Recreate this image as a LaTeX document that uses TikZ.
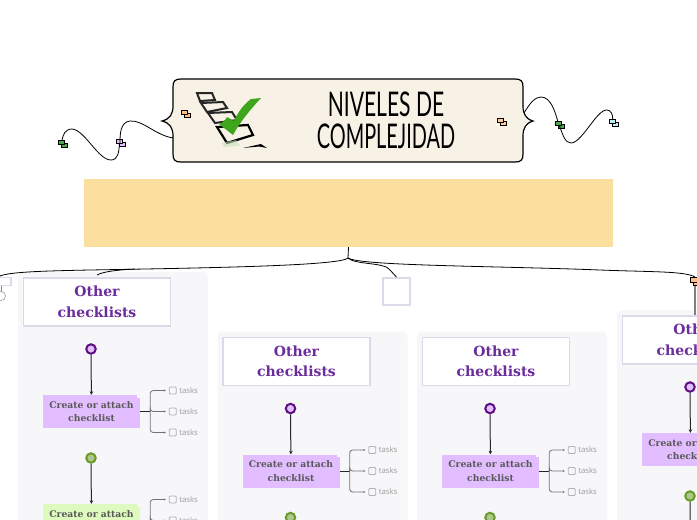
\documentclass[tikz,border=0pt]{standalone}
\usepackage{fontspec}
\usepackage{tikz}
\usetikzlibrary{positioning, arrows.meta, calc}
\newfontfamily\slabfont{DejaVu Serif}
\newfontfamily\handfont{Lato}
\newfontfamily\taskfont{Open Sans}
\definecolor{panelcol}{HTML}{F7F7FA}
\definecolor{framecol}{HTML}{DADAE8}
\definecolor{titlecol}{HTML}{6A2C9B}
\definecolor{purplecol}{HTML}{E2BDFF}
\definecolor{purpledark}{HTML}{5E0F82}
\definecolor{greencol}{HTML}{DFFABE}
\definecolor{greendark}{HTML}{6B9A2C}
\definecolor{creamcol}{HTML}{F8F2E6}
\definecolor{bandcol}{HTML}{FBDF9E}
\definecolor{checkcol}{HTML}{3FA51C}
\tikzset{
    framebox/.style={draw=framecol, line width=1.8pt, fill=white, minimum width=147pt, minimum height=48pt, align=center, inner sep=0pt, font=\slabfont\bfseries\fontsize{14}{20.5}\selectfont, text=titlecol},
    dotnode/.style={circle, draw=#1, line width=2pt, minimum size=9.5pt, inner sep=0pt},
    itembox/.style={fill=#1, minimum width=97pt, minimum height=33pt, align=center, inner sep=0pt, font=\slabfont\bfseries\fontsize{9.2}{13.5}\selectfont, text=black!65},
    flowline/.style={draw=black!85, line width=1pt, -{Stealth[length=3.5pt, width=3.5pt]}},
    taskline/.style={draw=black!55, line width=0.8pt, rounded corners=3pt, -{Stealth[length=2pt, width=2pt]}},
    taskbox/.style={draw=black!30, line width=0.8pt, rounded corners=1pt, minimum size=7pt, inner sep=0pt},
    tasktext/.style={font=\taskfont\fontsize{7.8}{9}\selectfont, text=black!40, inner sep=0pt},
    topicline/.style={draw=black, line width=0.8pt},
    tagback/.style={draw=black, line width=0.6pt, fill=#1, minimum width=6.5pt, minimum height=4.5pt, inner sep=0pt},
}
% little double tag
\newcommand{\tagicon}[4]{
    \node (#1b) [tagback=#4] at (#2+1.5,#3+1.5) {};
    \node (#1) [tagback=#4] at (#2-1.5,#3-1.5) {};
}
% three tasks to the right of an item
\newcommand{\taskfan}[2]{
    \draw [draw=black!85, line width=1pt] (#1.east) -- ++(10,0) coordinate (#1fork);
    \foreach \rowname/\rowshift in {a/-21, b/0, c/21} {
        \node (#1box\rowname) [taskbox, right=29pt of #1.east, yshift=-\rowshift pt, xshift=3.5pt, anchor=center] {};
        \node (#1txt\rowname) [tasktext, right=2.5pt of #1box\rowname] {tasks};
        \draw [taskline] (#1fork) -- ($(#1fork)+(0,\rowshift)$) -- ($(#1box\rowname.west)+(-3,0)$);
    }
}
% one column of the map
\newcommand{\checkcol}[3]{
    \begin{scope}[shift={(#2,#3)}]
        \fill [panelcol, rounded corners=6pt] (18,272) rectangle (208,560);
        \node (#1title) [framebox] at (97,302) {Other\\checklists};
        \node (#1dota) [dotnode=purpledark, fill=purplecol] at (91,349) {};
        \node (#1itema) [itembox=purplecol] at (91.5,411.5) {Create or attach\\checklist};
        \fill [panelcol] (#1itema.north east) rectangle +(-3,3);
        \draw [flowline] (#1dota) -- (#1itema);
        \taskfan{#1itema}{}
        \node (#1dotb) [dotnode=greendark, fill=greendark!55] at (91,458) {};
        \node (#1itemb) [itembox=greencol] at (91.5,520.5) {Create or attach\\checklist};
        \fill [panelcol] (#1itemb.north east) rectangle +(-3,3);
        \draw [flowline] (#1dotb) -- (#1itemb);
        \taskfan{#1itemb}{}
    \end{scope}
}

\begin{document}
\begin{tikzpicture}[x=1pt, y=-1pt]
    \useasboundingbox (0,0) rectangle (697,520);
    \clip (0,0) rectangle (697,520);
    \fill [white] (0,0) rectangle (697,520);
    % Columns
    \checkcol{one}{0}{0}
    \checkcol{two}{199.5}{59.5}
    \checkcol{three}{399}{59.5}
    \checkcol{four}{599}{38}
    % Central topic
    \draw [black, line width=1.2pt, fill=creamcol]
        (181,79) -- (515,79) .. controls (521,79) and (523,81) .. (523,87)
        -- (523,106) .. controls (523,114) and (526,119) .. (533,121)
        .. controls (526,123) and (523,128) .. (523,136)
        -- (523,154) .. controls (523,160) and (521,162) .. (515,162)
        -- (181,162) .. controls (175,162) and (173,160) .. (173,154)
        -- (173,136) .. controls (173,128) and (170,123) .. (162,121)
        .. controls (170,119) and (173,114) .. (173,106)
        -- (173,87) .. controls (173,81) and (175,79) .. (181,79) -- cycle;
    \node (centertext) [font=\handfont\fontsize{34}{32}\selectfont, align=center, inner sep=0pt] at (386,120) {\scalebox{0.62}[1]{NIVELES DE}\\\scalebox{0.585}[1]{COMPLEJIDAD}};
    % Checklist picture
    \draw [black!85, line width=2pt] (197,93) -- (212,93) -- (215,100) -- (200,101) -- cycle;
    \draw [black!85, line width=2pt] (201,103) -- (223,102) -- (227,108) -- (207,112) -- cycle;
    \draw [black!85, line width=2pt] (208,113) -- (232,112) -- (237,120) -- (215,123) -- cycle;
    \draw [black, line width=2.2pt] (217,127) -- (248,125) -- (253,135) -- (227,143) -- cycle;
    \fill [black] (243,148) -- (261,144) -- (267,148) -- (259,146.5) -- cycle;
    \fill [checkcol!30!white, opacity=0.6] (222,143) -- (236,140) -- (240,146) -- (224,147) -- cycle;
    \fill [checkcol] (219,124) .. controls (224,122) and (226,119) .. (227,117) -- (234,121) .. controls (238,112) and (244,104) .. (251,99) -- (261,98) .. controls (250,110) and (240,122) .. (233,135) -- cycle;
    % Floating tags
    \tagicon{tagcenterl}{186}{114}{orange!50}
    \tagicon{tagcenterr}{502}{122}{orange!40}
    % Left wavy branch
    \tagicon{tagfarl}{63}{144}{green!50!black!70}
    \tagicon{tagnearl}{121}{143}{purplecol}
    \coordinate (startl) at (173,138);
    \draw [topicline] (startl) .. controls (155,135) and (143,120) .. (130,121) .. controls (120,122) and (120,135) .. (120,143);
    \draw [topicline] (tagnearl) .. controls (119,152) and (118,160) .. (111,160) .. controls (98,160) and (85,130) .. (72,129) .. controls (65,129) and (63,135) .. (tagfarl);
    % Right wavy branch
    \tagicon{tagnearr}{560}{125}{green!50!black!70}
    \tagicon{tagfarr}{614}{123}{cyan!25}
    \coordinate (startr) at (524,113);
    \draw [topicline] (startr) .. controls (530,103) and (535,97) .. (541,97) .. controls (551,97) and (555,112) .. (tagnearr);
    \draw [topicline] (tagnearr) .. controls (563,135) and (565,143) .. (571,143) .. controls (582,143) and (597,109) .. (607,110) .. controls (611,110) and (613,115) .. (tagfarr);
    % Main band
    \node (band) [fill=bandcol, minimum width=529pt, minimum height=68pt, inner sep=0pt] at (348.5,213) {};
    % Second level connectors
    \coordinate (fanpoint) at (348,258);
    \node (emptybox) [draw=framecol, line width=1.8pt, fill=white, minimum size=27pt, inner sep=0pt] at (396.5,291.5) {};
    \node (cutbox) [draw=framecol, line width=1.8pt, fill=white, minimum width=147pt, minimum height=8pt, inner sep=0pt, anchor=east] at (12,281.5) {};
    \draw [black!50, line width=0.8pt] (1,286) -- (1,292);
    \node (cutdot) [circle, draw=black!35, line width=0.7pt, minimum size=9pt, inner sep=0pt] at (1,296) {};
    \draw [topicline] (band.south) -- (fanpoint);
    \draw [topicline] (fanpoint) .. controls (340,266) and (200,268) .. (90,270) .. controls (40,271) and (10,272) .. (0,276);
    \draw [topicline] (onetitle.north) ++(0,-2) .. controls (102,272) and (115,270) .. (135,269);
    \draw [topicline] (fanpoint) .. controls (355,265) and (385,262) .. (390,270) -- (emptybox.north);
    \draw [topicline] (fanpoint) .. controls (360,266) and (500,266) .. (600,270) .. controls (650,272) and (685,271) .. (695,277);
    % Far right tag
    \draw [black!50, line width=1.8pt] (695,283) -- (695,315);
    \tagicon{tagedge}{695.5}{281.5}{orange!50}
\end{tikzpicture}
\end{document}
